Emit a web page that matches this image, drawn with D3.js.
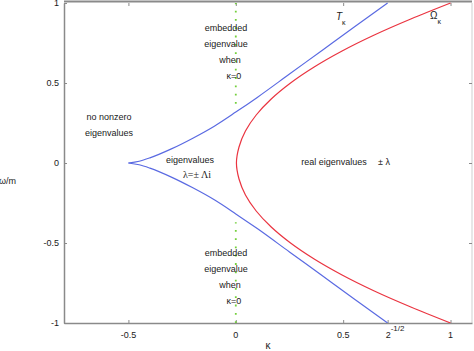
<!DOCTYPE html>
<html>
<head>
<meta charset="utf-8">
<script src="https://cdn.jsdelivr.net/npm/d3@7"></script>
<style>
  body { margin: 0; background: #fff; }
  svg { display: block; font-family: "Liberation Sans", Arial, sans-serif; }
</style>
</head>
<body>
<div class="chart"></div>
<script>
// tick values / labels
const xTicks = [-0.5, 0, 0.5, Math.SQRT1_2, 1];
const xTickLabels = ['-0.5', '0', '0.5', '2', '1'];
const yTicks = [-1, -0.5, 0, 0.5, 1];
const yTickLabels = ['-1', '-0.5', '0', '0.5', '1'];

// T_kappa, upper branch (lower branch is the mirror)
const tKappa = [-0.5, -0.45, -0.4, -0.3, -0.2, -0.1, 0, 0.1, 0.25, 0.4, 0.55, 0.707];
const tOmega = [0, 0.011, 0.032, 0.088, 0.155, 0.23, 0.318, 0.41, 0.556, 0.702, 0.848, 1.0];

// Omega_kappa
const oOmega = [-1, -0.9, -0.8, -0.7, -0.6, -0.5, -0.4, -0.3, -0.2, -0.1, 0, 0.1, 0.2, 0.3, 0.4, 0.5, 0.6, 0.7, 0.8, 0.9, 1];
const oKappa = [1.0, 0.815, 0.645, 0.495, 0.365, 0.255, 0.165, 0.095, 0.045, 0.015, 0.003, 0.015, 0.045, 0.095, 0.165, 0.255, 0.365, 0.495, 0.645, 0.815, 1.0];

// embedded eigenvalue at kappa = 0
const embKappa = 0;
const embRanges = [[0.37, 1], [-1, -0.37]];

const width = 474, height = 351;
const plot = {left: 64, right: 472, top: 3, bottom: 323};

const svg = d3.select('.chart').append('svg')
  .attr('width', width)
  .attr('height', height);

const x = d3.scaleLinear().domain([-0.8, 1.1]).range([plot.left, plot.right]);
const y = d3.scaleLinear().domain([-1, 1]).range([plot.bottom, plot.top]);

const axisColor = '#8a8a8a';
const txt = '#1a1a1a';

// frame
svg.append('line').attr('x1', plot.right).attr('x2', plot.right)
  .attr('y1', plot.top).attr('y2', plot.bottom)
  .attr('stroke', '#cfcfcf').attr('stroke-width', 1);
svg.append('line').attr('x1', plot.left).attr('x2', plot.right)
  .attr('y1', 1.5).attr('y2', 1.5)
  .attr('stroke', axisColor).attr('stroke-width', 2);

const styleAxis = g => g
  .call(g => g.selectAll('.tick line').attr('stroke', axisColor))
  .call(g => g.selectAll('.domain').attr('stroke', axisColor).attr('stroke-width', 1.5));

svg.append('g')
  .attr('transform', `translate(0,${plot.bottom})`)
  .call(d3.axisBottom(x).tickValues(xTicks).tickSize(-3).tickSizeOuter(0).tickFormat(''))
  .call(styleAxis);
svg.append('g')
  .attr('transform', `translate(0,${plot.top})`)
  .call(d3.axisTop(x).tickValues(xTicks.filter(d => d !== Math.SQRT1_2)).tickSize(-3).tickSizeOuter(0).tickFormat(''))
  .call(g => g.select('.domain').remove())
  .call(styleAxis);
svg.append('g')
  .attr('transform', `translate(${plot.left},0)`)
  .call(d3.axisLeft(y).tickValues(yTicks).tickSize(-3).tickSizeOuter(0).tickFormat(''))
  .call(styleAxis);
svg.append('g')
  .attr('transform', `translate(${plot.right},0)`)
  .call(d3.axisRight(y).tickValues(yTicks.slice(1, -1)).tickSize(-3).tickSizeOuter(0).tickFormat(''))
  .call(g => g.select('.domain').remove())
  .call(styleAxis);

// tick labels
svg.append('g').selectAll('text')
  .data(yTicks)
  .join('text')
    .attr('x', plot.left - 5)
    .attr('y', d => y(d))
    .attr('dy', '0.35em')
    .attr('text-anchor', 'end')
    .attr('font-size', 9)
    .attr('fill', txt)
    .text((d, i) => yTickLabels[i]);

const xl = svg.append('g').selectAll('text')
  .data(xTicks)
  .join('text')
    .attr('x', d => x(d))
    .attr('y', 338)
    .attr('text-anchor', (d, i) => i === 3 ? 'start' : 'middle')
    .attr('dx', (d, i) => i === 3 ? -2 : 0)
    .attr('font-size', 9)
    .attr('fill', txt)
    .text((d, i) => xTickLabels[i]);
xl.filter((d, i) => i === 3).append('tspan')
  .attr('dy', -7).attr('font-size', 8).text('-1/2');

// axis titles
svg.append('text').attr('x', x(0.15)).attr('y', 349)
  .attr('text-anchor', 'middle').attr('font-size', 10).attr('fill', txt).text('κ');
svg.append('text').attr('x', -1).attr('y', 184)
  .attr('font-size', 9).attr('fill', txt).text('ω/m');

// curves
svg.append('clipPath').attr('id', 'clip')
  .append('rect').attr('x', plot.left).attr('y', plot.top - 1)
  .attr('width', plot.right - plot.left).attr('height', plot.bottom - plot.top + 1);

const curves = svg.append('g').attr('clip-path', 'url(#clip)');

curves.selectAll('.emb')
  .data(embRanges)
  .join('line')
    .attr('x1', x(embKappa)).attr('x2', x(embKappa))
    .attr('y1', d => y(d[0])).attr('y2', d => y(d[1]))
    .attr('stroke', '#74d03c')
    .attr('stroke-width', 1.8)
    .attr('stroke-dasharray', '1.8,6.5');

const tLine = d3.line().x(d => x(d[0])).y(d => y(d[1])).curve(d3.curveMonotoneX);
const oLine = d3.line().x(d => x(d[0])).y(d => y(d[1])).curve(d3.curveCatmullRom);

[1, -1].forEach(s => {
  curves.append('path')
    .datum(tKappa.map((k, i) => [k, s * tOmega[i]]))
    .attr('d', tLine)
    .attr('fill', 'none')
    .attr('stroke', '#5a6ae2')
    .attr('stroke-width', 1.2);
});

curves.append('path')
  .datum(oKappa.map((k, i) => [k, oOmega[i]]))
  .attr('d', oLine)
  .attr('fill', 'none')
  .attr('stroke', '#ea3440')
  .attr('stroke-width', 1.2);

// annotations
const notes = [
  ['no nonzero', 109, 120], ['eigenvalues', 109, 136],
  ['embedded', 226, 31], ['eigenvalue', 226, 47], ['when', 230, 63], ['κ=0', 234, 79],
  ['embedded', 226, 256], ['eigenvalue', 226, 272], ['when', 230, 288], ['κ=0', 234, 304],
  ['eigenvalues', 190, 163],
  ['real eigenvalues', 334, 165], ['± λ', 384, 165]
];
svg.append('g').selectAll('text')
  .data(notes)
  .join('text')
    .attr('x', d => d[1]).attr('y', d => d[2])
    .attr('text-anchor', 'middle')
    .attr('font-size', 9)
    .attr('fill', txt)
    .text(d => d[0]);

svg.append('text').attr('x', 197).attr('y', 178)
  .attr('text-anchor', 'middle')
  .attr('font-family', '"Liberation Serif", "DejaVu Serif", serif')
  .attr('font-size', 10).attr('fill', txt).text('λ=± Λi');

const tLab = svg.append('text').attr('x', 336).attr('y', 20)
  .attr('font-size', 10).attr('fill', txt);
tLab.append('tspan').attr('font-style', 'italic').text('T');
tLab.append('tspan').attr('dy', 5).attr('font-size', 7).text('κ');

const oLab = svg.append('text').attr('x', 430).attr('y', 19)
  .attr('font-size', 10).attr('fill', txt);
oLab.append('tspan').text('Ω');
oLab.append('tspan').attr('dy', 5).attr('font-size', 7).text('κ');
</script>
</body>
</html>
